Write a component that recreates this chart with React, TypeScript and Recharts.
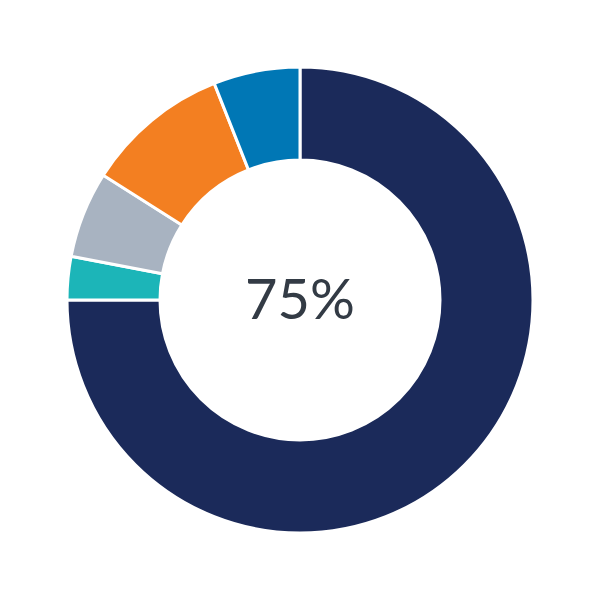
import { PieChart, Pie, Cell } from "recharts";

// segment values, clockwise from 12 o'clock
const SEGMENTS = ["Main", "Teal", "Grey", "Orange", "Blue"];
const VALUES = [75, 3, 6, 10, 6];
const COLORS = ["#1b2a5a", "#1cb5b8", "#a8b3c1", "#f37f21", "#0077b5"];
const CENTER_LABEL = "75%";

const data = SEGMENTS.map((name, i) => ({ name, value: VALUES[i] }));

export default function App() {
  return (
    <div style={{ position: "absolute", left: 0, top: 0, width: 600, height: 600 }}>
      <PieChart width={600} height={600} margin={{ top: 0, right: 0, bottom: 0, left: 0 }}>
        <Pie
          data={data}
          dataKey="value"
          nameKey="name"
          cx={300}
          cy={300}
          innerRadius={140}
          outerRadius={233}
          startAngle={90}
          endAngle={-270}
          stroke="#ffffff"
          strokeWidth={3}
          isAnimationActive={false}
        >
          {data.map((d, i) => (
            <Cell key={d.name} fill={COLORS[i]} />
          ))}
        </Pie>
        <text
          x={300}
          y={297}
          textAnchor="middle"
          dominantBaseline="central"
          fontFamily="Lato, 'Open Sans', sans-serif"
          fontWeight={400}
          fontSize={56}
          fill="#333b45"
        >
          {CENTER_LABEL}
        </text>
      </PieChart>
    </div>
  );
}
